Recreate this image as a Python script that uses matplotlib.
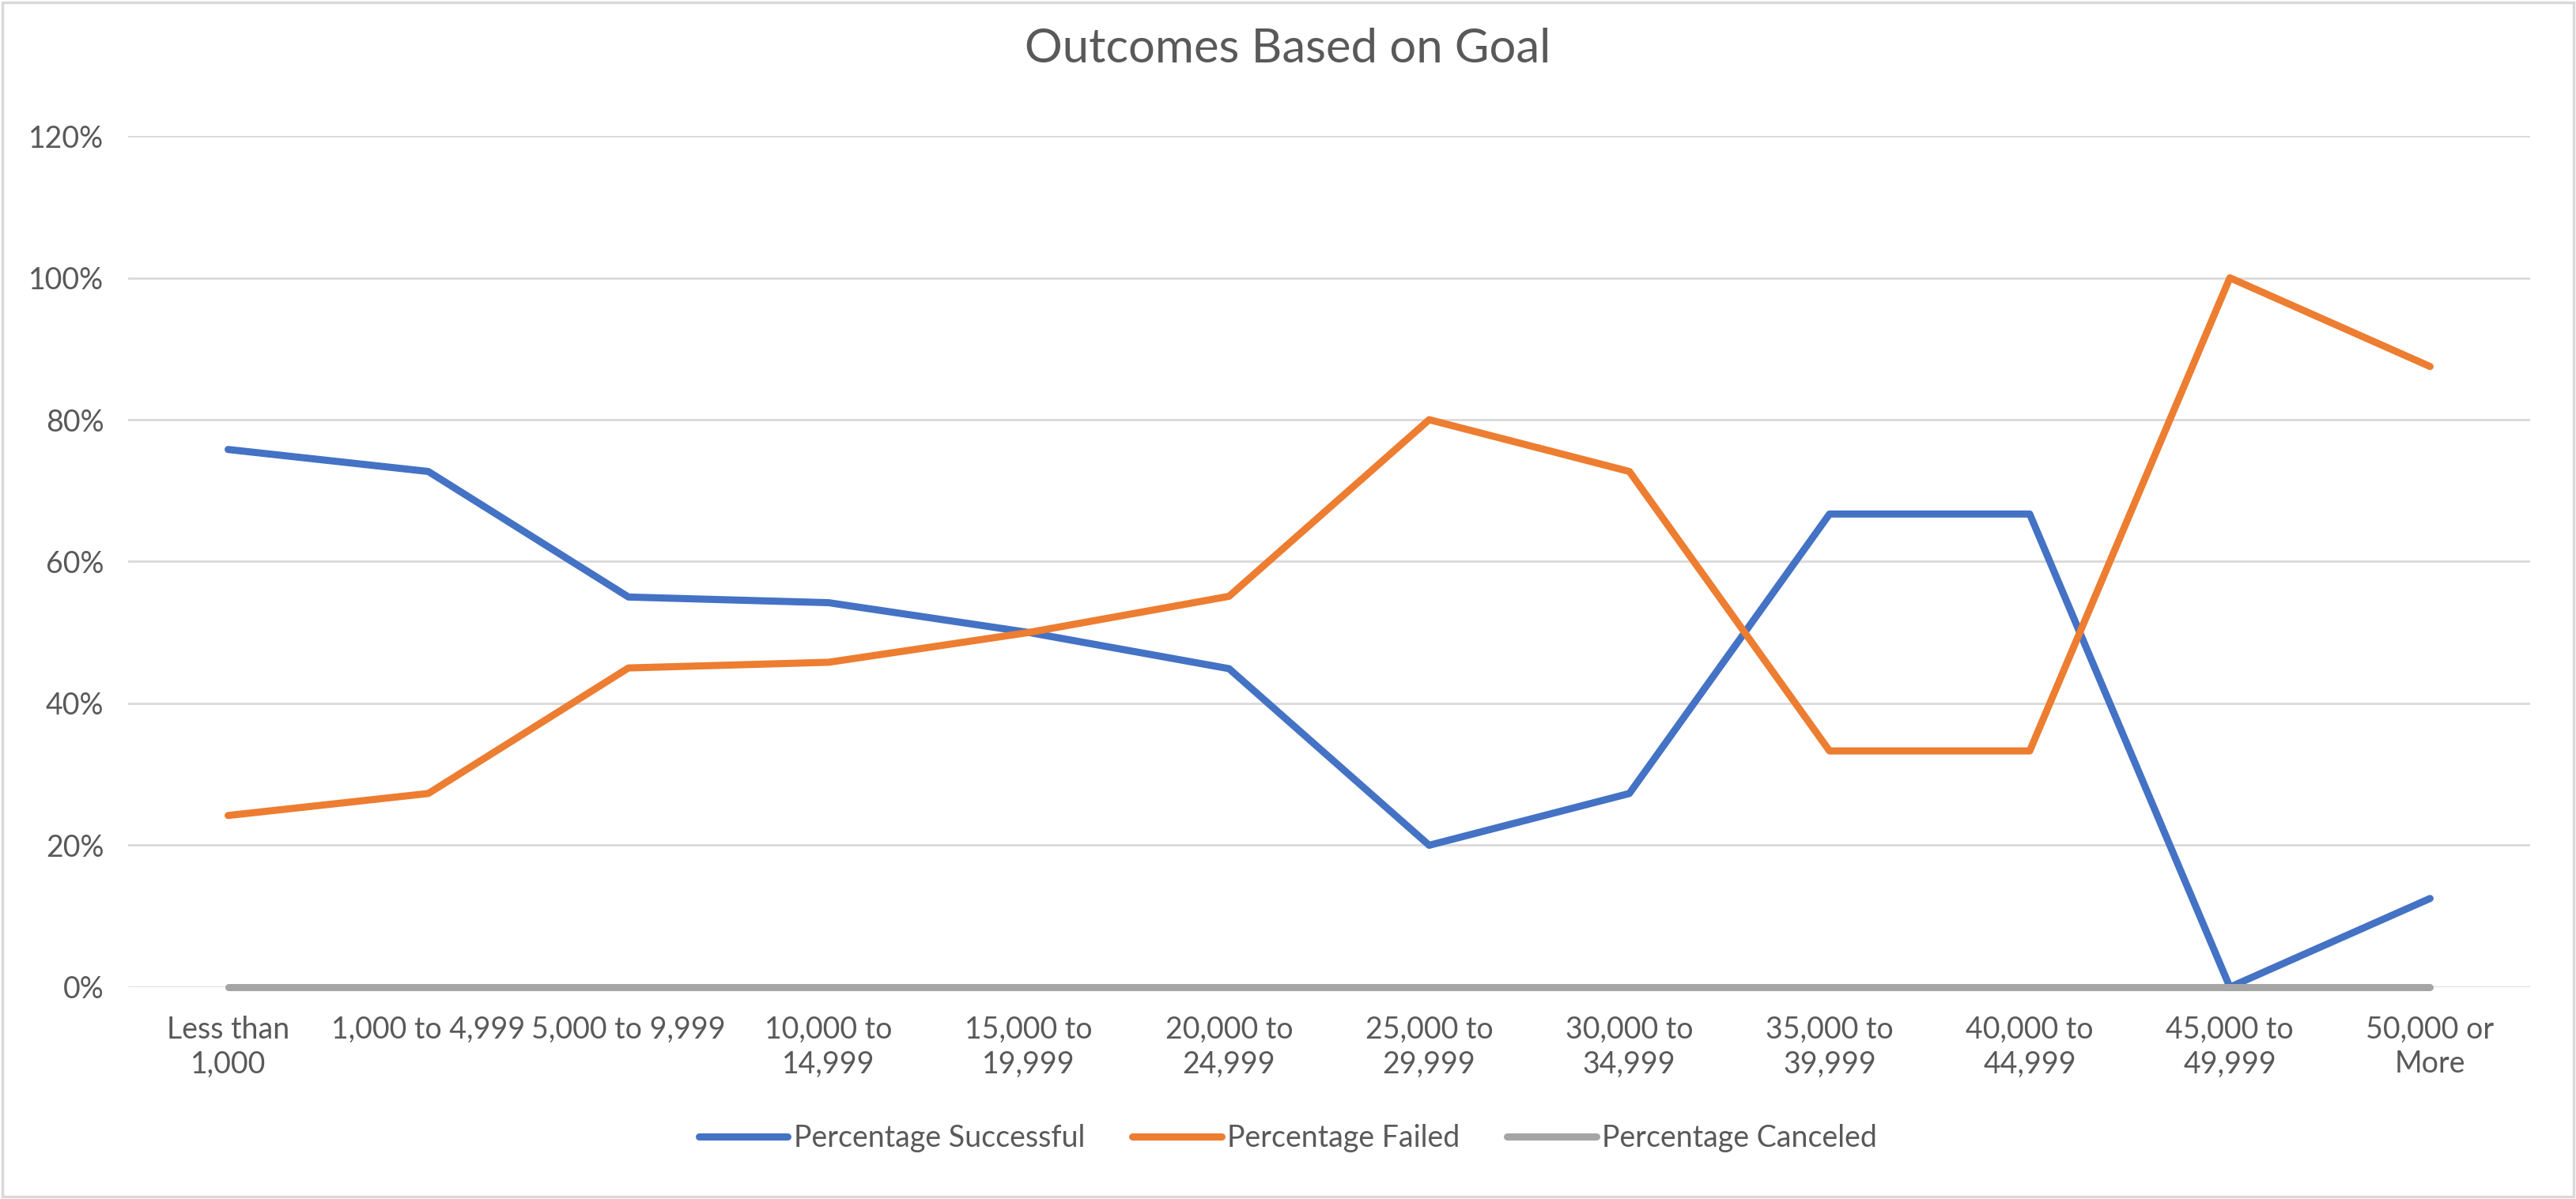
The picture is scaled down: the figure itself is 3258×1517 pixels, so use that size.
from matplotlib import pyplot as plt
from matplotlib.patches import Rectangle
from matplotlib.ticker import PercentFormatter

plt.rcParams['font.family'] = ['Lato', 'DejaVu Sans']

categories = ['Less than\n1,000', '1,000 to 4,999', '5,000 to 9,999',
              '10,000 to\n14,999', '15,000 to\n19,999', '20,000 to\n24,999',
              '25,000 to\n29,999', '30,000 to\n34,999', '35,000 to\n39,999',
              '40,000 to\n44,999', '45,000 to\n49,999', '50,000 or\nMore']
successful = [75.8, 72.7, 55.0, 54.2, 50.0, 44.9, 20.0, 27.3, 66.7, 66.7, 0.0, 12.5]
failed = [24.2, 27.3, 45.0, 45.8, 50.0, 55.1, 80.0, 72.7, 33.3, 33.3, 100.0, 87.5]
canceled = [0, 0, 0, 0, 0, 0, 0, 0, 0, 0, 0, 0]

TEXT = '#595959'
GRID = '#d9d9d9'

fig = plt.figure(figsize=(32.58, 15.17), dpi=100)
ax = fig.add_axes([0.0497, 0.1767, 0.9325, 0.7099])

x = range(len(categories))
ax.plot(x, successful, c='#4472C4', lw=6.5, label='Percentage Successful',
        solid_capstyle='round', solid_joinstyle='round', zorder=3, clip_on=False)
ax.plot(x, failed, c='#ED7D31', lw=6.5, label='Percentage Failed',
        solid_capstyle='round', solid_joinstyle='round', zorder=3, clip_on=False)
ax.plot(x, canceled, c='#A5A5A5', lw=6.5, label='Percentage Canceled',
        solid_capstyle='round', solid_joinstyle='round', zorder=4, clip_on=False)

ax.set_xlim(-0.5, len(categories) - 0.5)
ax.set_ylim(0, 120)
ax.set_yticks(range(0, 121, 20))
ax.yaxis.set_major_formatter(PercentFormatter(decimals=0))
ax.set_xticks(list(x))
ax.set_xticklabels(categories, linespacing=1.25)
ax.tick_params(axis='both', length=0, labelsize=27, colors=TEXT)
ax.tick_params(axis='x', pad=26)
ax.tick_params(axis='y', pad=22)
ax.grid(axis='y', color=GRID, lw=2)
ax.set_axisbelow(True)
for s in ax.spines.values():
    s.set_visible(False)

fig.suptitle('Outcomes Based on Goal', fontsize=43, color=TEXT, y=0.977)

ax.legend(loc='center', bbox_to_anchor=(0.5, 0.0509), bbox_transform=fig.transFigure,
          ncol=3, frameon=False, fontsize=27, labelcolor=TEXT, handlelength=3.0,
          handletextpad=0.2, columnspacing=1.6)

fig.add_artist(Rectangle((0.001, 0.002), 0.998, 0.996, transform=fig.transFigure,
                         fill=False, edgecolor=GRID, lw=2.5))

fig.savefig('out.png')
